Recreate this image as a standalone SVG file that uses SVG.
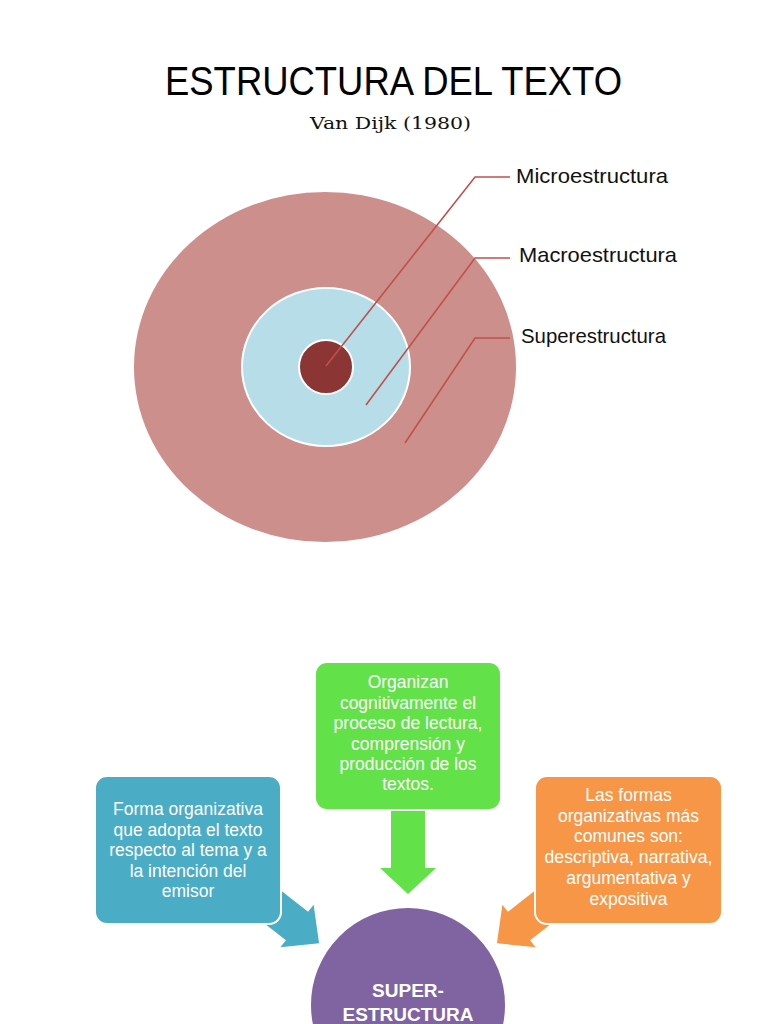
<svg xmlns="http://www.w3.org/2000/svg" width="768" height="1024" viewBox="0 0 768 1024">
<style>
.sans{font-family:"Liberation Sans",Arial,sans-serif}
.lbl{font-family:"Liberation Sans",Arial,sans-serif;font-size:21px;fill:#111}
.box{stroke:#fff;stroke-width:2}
.bt{font-family:"Liberation Sans",Arial,sans-serif;font-size:17.5px;fill:#fff;text-anchor:middle}
.lead{fill:none;stroke:#C0504D;stroke-width:1.6}
</style>
<defs>
<path id="blockArrow" d="M-45,-18 L0,-18 L0,-27 L28,0 L0,27 L0,18 L-45,18 Z"/>
</defs>
<rect width="768" height="1024" fill="#fff"/>
<g id="title">
<text class="sans" x="393.5" y="95" font-size="40" text-anchor="middle" textLength="457" lengthAdjust="spacingAndGlyphs" fill="#000">ESTRUCTURA DEL TEXTO</text>
<text x="390.5" y="129" font-family="'DejaVu Serif','Liberation Serif',serif" font-size="17" text-anchor="middle" textLength="161" lengthAdjust="spacingAndGlyphs" fill="#111">Van Dijk (1980)</text>
</g>
<g id="superestructura-ring"><ellipse cx="325" cy="367" rx="191" ry="175" fill="#CD8F8C"/></g>
<g id="macroestructura-ring"><ellipse cx="326" cy="367" rx="84" ry="79" fill="#B7DDE8" stroke="#fff" stroke-width="2"/></g>
<g id="microestructura-core"><circle cx="326" cy="367" r="27" fill="#8C3535" stroke="#fff" stroke-width="2"/></g>
<g id="connectors">
<polyline class="lead" points="326,366 475,177 510,177"/>
<polyline class="lead" points="366,405 475,258 510,258"/>
<polyline class="lead" points="405,443 475,338 510,338"/>
<use href="#blockArrow" fill="#4BACC6" transform="translate(297,926) rotate(38)"/>
<use href="#blockArrow" fill="#F79646" transform="translate(519,926) rotate(142)"/>
<polygon fill="#62E148" points="391,811 425,811 425,868 436,868 408,894 380,868 391,868"/>
</g>
<g id="label-micro"><text class="lbl" x="516" y="183" textLength="152" lengthAdjust="spacingAndGlyphs">Microestructura</text></g>
<g id="label-macro"><text class="lbl" x="519" y="262" textLength="158" lengthAdjust="spacingAndGlyphs">Macroestructura</text></g>
<g id="label-super"><text class="lbl" x="521" y="343" textLength="145" lengthAdjust="spacingAndGlyphs">Superestructura</text></g>
<g id="box-left">
<rect class="box" x="95" y="776" width="186" height="148" rx="12" fill="#4BACC6"/>
<text class="bt" x="188" y="815">Forma organizativa</text>
<text class="bt" x="188" y="835.5">que adopta el texto</text>
<text class="bt" x="188" y="856">respecto al tema y a</text>
<text class="bt" x="188" y="876.5">la intención del</text>
<text class="bt" x="188" y="897">emisor</text>
</g>
<g id="box-top">
<rect class="box" x="315" y="662" width="186" height="148" rx="12" fill="#62E148"/>
<text class="bt" x="408" y="688">Organizan</text>
<text class="bt" x="408" y="708.5">cognitivamente el</text>
<text class="bt" x="408" y="729">proceso de lectura,</text>
<text class="bt" x="408" y="749.5">comprensión y</text>
<text class="bt" x="408" y="770">producción de los</text>
<text class="bt" x="408" y="790">textos.</text>
</g>
<g id="box-right">
<rect class="box" x="535" y="776" width="187" height="148" rx="12" fill="#F79646"/>
<text class="bt" x="628.5" y="801">Las formas</text>
<text class="bt" x="628.5" y="822">organizativas más</text>
<text class="bt" x="628.5" y="842">comunes son:</text>
<text class="bt" x="628.5" y="863" textLength="168" lengthAdjust="spacingAndGlyphs">descriptiva, narrativa,</text>
<text class="bt" x="628.5" y="884">argumentativa y</text>
<text class="bt" x="628.5" y="905">expositiva</text>
</g>
<g id="center-circle">
<circle cx="408" cy="1005" r="98" fill="#8064A2" stroke="#fff" stroke-width="2"/>
<text class="sans" x="408" y="997" font-size="19" font-weight="bold" fill="#fff" text-anchor="middle">SUPER-</text>
<text class="sans" x="408" y="1021" font-size="19" font-weight="bold" fill="#fff" text-anchor="middle">ESTRUCTURA</text>
</g>
</svg>
